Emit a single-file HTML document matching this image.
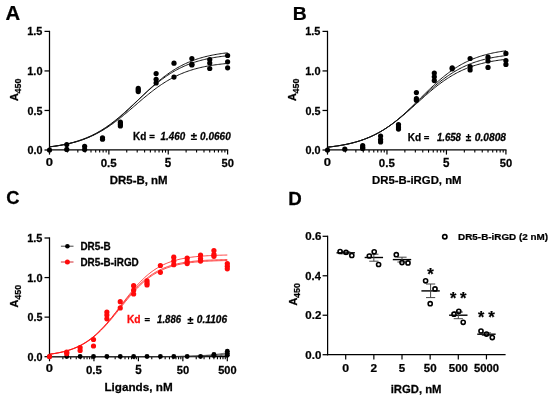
<!DOCTYPE html>
<html><head><meta charset="utf-8"><style>
html,body{margin:0;padding:0;background:#fff;}
body{width:550px;height:398px;overflow:hidden;font-family:"Liberation Sans",sans-serif;}
svg{display:block;will-change:transform;}
</style></head><body>
<svg width="550" height="398" viewBox="0 0 550 398" font-family="Liberation Sans, sans-serif">
<rect width="550" height="398" fill="#fff"/>
<text transform="translate(5.59,20.20) scale(1.045,1)" font-size="19.42" font-weight="bold" fill="#000" stroke="#000" stroke-width="0.24">A</text>
<line x1="49.5" y1="30.8" x2="49.5" y2="150.6" stroke="#000" stroke-width="1.25"/>
<line x1="44.5" y1="150" x2="49.5" y2="150" stroke="#000" stroke-width="1.25"/>
<line x1="44.5" y1="110.47" x2="49.5" y2="110.47" stroke="#000" stroke-width="1.25"/>
<line x1="44.5" y1="70.93" x2="49.5" y2="70.93" stroke="#000" stroke-width="1.25"/>
<line x1="44.5" y1="31.4" x2="49.5" y2="31.4" stroke="#000" stroke-width="1.25"/>
<line x1="48.9" y1="149.9" x2="228.21" y2="149.9" stroke="#000" stroke-width="1.25"/>
<line x1="49.5" y1="149.9" x2="49.5" y2="154.6" stroke="#000" stroke-width="1.2"/>
<line x1="108.87" y1="149.9" x2="108.87" y2="154.6" stroke="#000" stroke-width="1.2"/>
<line x1="168.24" y1="149.9" x2="168.24" y2="154.6" stroke="#000" stroke-width="1.2"/>
<line x1="227.61" y1="149.9" x2="227.61" y2="154.6" stroke="#000" stroke-width="1.2"/>
<line x1="67.37" y1="149.9" x2="67.37" y2="152.6" stroke="#000" stroke-width="1.1"/>
<line x1="77.83" y1="149.9" x2="77.83" y2="152.6" stroke="#000" stroke-width="1.1"/>
<line x1="85.24" y1="149.9" x2="85.24" y2="152.6" stroke="#000" stroke-width="1.1"/>
<line x1="91" y1="149.9" x2="91" y2="152.6" stroke="#000" stroke-width="1.1"/>
<line x1="95.7" y1="149.9" x2="95.7" y2="152.6" stroke="#000" stroke-width="1.1"/>
<line x1="99.67" y1="149.9" x2="99.67" y2="152.6" stroke="#000" stroke-width="1.1"/>
<line x1="103.12" y1="149.9" x2="103.12" y2="152.6" stroke="#000" stroke-width="1.1"/>
<line x1="106.15" y1="149.9" x2="106.15" y2="152.6" stroke="#000" stroke-width="1.1"/>
<line x1="126.74" y1="149.9" x2="126.74" y2="152.6" stroke="#000" stroke-width="1.1"/>
<line x1="137.2" y1="149.9" x2="137.2" y2="152.6" stroke="#000" stroke-width="1.1"/>
<line x1="144.61" y1="149.9" x2="144.61" y2="152.6" stroke="#000" stroke-width="1.1"/>
<line x1="150.37" y1="149.9" x2="150.37" y2="152.6" stroke="#000" stroke-width="1.1"/>
<line x1="155.07" y1="149.9" x2="155.07" y2="152.6" stroke="#000" stroke-width="1.1"/>
<line x1="159.04" y1="149.9" x2="159.04" y2="152.6" stroke="#000" stroke-width="1.1"/>
<line x1="162.49" y1="149.9" x2="162.49" y2="152.6" stroke="#000" stroke-width="1.1"/>
<line x1="165.52" y1="149.9" x2="165.52" y2="152.6" stroke="#000" stroke-width="1.1"/>
<line x1="186.11" y1="149.9" x2="186.11" y2="152.6" stroke="#000" stroke-width="1.1"/>
<line x1="196.57" y1="149.9" x2="196.57" y2="152.6" stroke="#000" stroke-width="1.1"/>
<line x1="203.98" y1="149.9" x2="203.98" y2="152.6" stroke="#000" stroke-width="1.1"/>
<line x1="209.74" y1="149.9" x2="209.74" y2="152.6" stroke="#000" stroke-width="1.1"/>
<line x1="214.44" y1="149.9" x2="214.44" y2="152.6" stroke="#000" stroke-width="1.1"/>
<line x1="218.41" y1="149.9" x2="218.41" y2="152.6" stroke="#000" stroke-width="1.1"/>
<line x1="221.86" y1="149.9" x2="221.86" y2="152.6" stroke="#000" stroke-width="1.1"/>
<line x1="224.89" y1="149.9" x2="224.89" y2="152.6" stroke="#000" stroke-width="1.1"/>
<text transform="translate(27.47,154.05) scale(0.931,1)" font-size="11.64" font-weight="bold" fill="#000" stroke="#000" stroke-width="0.27">0.0</text>
<text transform="translate(27.47,114.52) scale(0.924,1)" font-size="11.64" font-weight="bold" fill="#000" stroke="#000" stroke-width="0.27">0.5</text>
<text transform="translate(27.24,74.98) scale(0.945,1)" font-size="11.64" font-weight="bold" fill="#000" stroke="#000" stroke-width="0.26">1.0</text>
<text transform="translate(27.24,35.45) scale(0.925,1)" font-size="11.81" font-weight="bold" fill="#000" stroke="#000" stroke-width="0.27">1.5</text>
<text transform="translate(45.78,165.50) scale(1.150,1)" font-size="11.29" font-weight="bold" fill="#000" stroke="#000" stroke-width="0.22">0</text>
<text transform="translate(100.71,167.20) scale(0.983,1)" font-size="11.71" font-weight="bold" fill="#000" stroke="#000" stroke-width="0.25">0.5</text>
<text transform="translate(164.79,167.20) scale(0.976,1)" font-size="11.88" font-weight="bold" fill="#000" stroke="#000" stroke-width="0.26">5</text>
<text transform="translate(221.48,167.20) scale(0.952,1)" font-size="11.71" font-weight="bold" fill="#000" stroke="#000" stroke-width="0.26">50</text>
<text transform="translate(109.80,184.00) scale(0.975,1)" font-size="11.74" font-weight="bold" fill="#000" stroke="#000" stroke-width="0.26">DR5-B, nM</text>
<g transform="translate(18.1,100.8) rotate(-90)"><text transform="translate(-0.32,0.00) scale(0.928,1)" font-size="11.59" font-weight="bold" fill="#000" stroke="#000" stroke-width="0.27">A</text></g>
<g transform="translate(21.4,93.2) rotate(-90)"><text transform="translate(-0.18,0.00) scale(0.971,1)" font-size="9.14" font-weight="bold" fill="#000" stroke="#000" stroke-width="0.26">450</text></g>
<path d="M49.50,146.90 L50.77,146.75 L52.04,146.59 L53.32,146.42 L54.59,146.25 L55.86,146.07 L57.13,145.88 L58.41,145.68 L59.68,145.47 L60.95,145.25 L62.22,145.02 L63.49,144.78 L64.77,144.53 L66.04,144.27 L67.31,144.00 L68.58,143.71 L69.86,143.42 L71.13,143.11 L72.40,142.78 L73.67,142.45 L74.94,142.09 L76.22,141.73 L77.49,141.35 L78.76,140.95 L80.03,140.53 L81.31,140.10 L82.58,139.65 L83.85,139.19 L85.12,138.70 L86.39,138.20 L87.67,137.67 L88.94,137.13 L90.21,136.56 L91.48,135.98 L92.76,135.37 L94.03,134.75 L95.30,134.10 L96.57,133.43 L97.84,132.73 L99.12,132.02 L100.39,131.28 L101.66,130.51 L102.93,129.73 L104.21,128.92 L105.48,128.08 L106.75,127.23 L108.02,126.35 L109.29,125.44 L110.57,124.52 L111.84,123.57 L113.11,122.60 L114.38,121.60 L115.66,120.59 L116.93,119.55 L118.20,118.50 L119.47,117.42 L120.74,116.33 L122.02,115.22 L123.29,114.09 L124.56,112.94 L125.83,111.78 L127.11,110.61 L128.38,109.42 L129.65,108.22 L130.92,107.02 L132.19,105.80 L133.47,104.58 L134.74,103.35 L136.01,102.12 L137.28,100.88 L138.56,99.65 L139.83,98.41 L141.10,97.18 L142.37,95.94 L143.64,94.72 L144.92,93.50 L146.19,92.29 L147.46,91.08 L148.73,89.89 L150.00,88.71 L151.28,87.54 L152.55,86.38 L153.82,85.24 L155.09,84.12 L156.37,83.02 L157.64,81.93 L158.91,80.86 L160.18,79.81 L161.45,78.78 L162.73,77.77 L164.00,76.79 L165.27,75.83 L166.54,74.89 L167.82,73.97 L169.09,73.07 L170.36,72.20 L171.63,71.35 L172.90,70.53 L174.18,69.73 L175.45,68.95 L176.72,68.19 L177.99,67.46 L179.27,66.75 L180.54,66.07 L181.81,65.41 L183.08,64.77 L184.35,64.15 L185.63,63.55 L186.90,62.97 L188.17,62.41 L189.44,61.88 L190.72,61.36 L191.99,60.86 L193.26,60.39 L194.53,59.93 L195.80,59.48 L197.08,59.06 L198.35,58.65 L199.62,58.26 L200.89,57.88 L202.17,57.52 L203.44,57.17 L204.71,56.84 L205.98,56.52 L207.25,56.22 L208.53,55.92 L209.80,55.64 L211.07,55.38 L212.34,55.12 L213.62,54.87 L214.89,54.64 L216.16,54.41 L217.43,54.20 L218.70,53.99 L219.98,53.80 L221.25,53.61 L222.52,53.43 L223.79,53.26 L225.07,53.10 L226.34,52.94 L227.61,52.79" fill="none" stroke="#111" stroke-width="1.0"/>
<path d="M49.50,146.79 L50.77,146.63 L52.04,146.46 L53.32,146.29 L54.59,146.11 L55.86,145.92 L57.13,145.73 L58.41,145.52 L59.68,145.30 L60.95,145.08 L62.22,144.84 L63.49,144.60 L64.77,144.34 L66.04,144.07 L67.31,143.79 L68.58,143.50 L69.86,143.19 L71.13,142.87 L72.40,142.54 L73.67,142.19 L74.94,141.83 L76.22,141.46 L77.49,141.06 L78.76,140.65 L80.03,140.23 L81.31,139.79 L82.58,139.33 L83.85,138.85 L85.12,138.35 L86.39,137.84 L87.67,137.30 L88.94,136.75 L90.21,136.17 L91.48,135.58 L92.76,134.96 L94.03,134.32 L95.30,133.67 L96.57,132.98 L97.84,132.28 L99.12,131.55 L100.39,130.81 L101.66,130.04 L102.93,129.24 L104.21,128.43 L105.48,127.59 L106.75,126.72 L108.02,125.84 L109.29,124.93 L110.57,124.01 L111.84,123.06 L113.11,122.09 L114.38,121.09 L115.66,120.08 L116.93,119.05 L118.20,118.00 L119.47,116.94 L120.74,115.85 L122.02,114.75 L123.29,113.64 L124.56,112.51 L125.83,111.37 L127.11,110.22 L128.38,109.05 L129.65,107.88 L130.92,106.70 L132.19,105.52 L133.47,104.33 L134.74,103.13 L136.01,101.94 L137.28,100.74 L138.56,99.54 L139.83,98.35 L141.10,97.16 L142.37,95.98 L143.64,94.80 L144.92,93.63 L146.19,92.47 L147.46,91.32 L148.73,90.18 L150.00,89.06 L151.28,87.95 L152.55,86.85 L153.82,85.77 L155.09,84.71 L156.37,83.66 L157.64,82.64 L158.91,81.63 L160.18,80.65 L161.45,79.68 L162.73,78.74 L164.00,77.81 L165.27,76.91 L166.54,76.04 L167.82,75.18 L169.09,74.35 L170.36,73.54 L171.63,72.75 L172.90,71.98 L174.18,71.24 L175.45,70.52 L176.72,69.82 L177.99,69.15 L179.27,68.49 L180.54,67.86 L181.81,67.25 L183.08,66.66 L184.35,66.09 L185.63,65.54 L186.90,65.01 L188.17,64.50 L189.44,64.01 L190.72,63.54 L191.99,63.08 L193.26,62.64 L194.53,62.22 L195.80,61.82 L197.08,61.43 L198.35,61.06 L199.62,60.70 L200.89,60.36 L202.17,60.03 L203.44,59.71 L204.71,59.41 L205.98,59.12 L207.25,58.84 L208.53,58.58 L209.80,58.32 L211.07,58.08 L212.34,57.85 L213.62,57.62 L214.89,57.41 L216.16,57.21 L217.43,57.01 L218.70,56.83 L219.98,56.65 L221.25,56.48 L222.52,56.32 L223.79,56.16 L225.07,56.01 L226.34,55.87 L227.61,55.74" fill="none" stroke="#111" stroke-width="1.0"/>
<path d="M49.50,146.89 L50.77,146.74 L52.04,146.58 L53.32,146.41 L54.59,146.24 L55.86,146.06 L57.13,145.87 L58.41,145.67 L59.68,145.46 L60.95,145.24 L62.22,145.01 L63.49,144.78 L64.77,144.53 L66.04,144.27 L67.31,144.00 L68.58,143.72 L69.86,143.42 L71.13,143.12 L72.40,142.80 L73.67,142.46 L74.94,142.11 L76.22,141.75 L77.49,141.38 L78.76,140.98 L80.03,140.58 L81.31,140.15 L82.58,139.71 L83.85,139.25 L85.12,138.78 L86.39,138.29 L87.67,137.78 L88.94,137.25 L90.21,136.70 L91.48,136.13 L92.76,135.54 L94.03,134.94 L95.30,134.31 L96.57,133.66 L97.84,132.99 L99.12,132.30 L100.39,131.59 L101.66,130.86 L102.93,130.11 L104.21,129.34 L105.48,128.54 L106.75,127.73 L108.02,126.90 L109.29,126.04 L110.57,125.17 L111.84,124.28 L113.11,123.37 L114.38,122.44 L115.66,121.49 L116.93,120.52 L118.20,119.54 L119.47,118.55 L120.74,117.54 L122.02,116.51 L123.29,115.48 L124.56,114.43 L125.83,113.37 L127.11,112.30 L128.38,111.23 L129.65,110.15 L130.92,109.06 L132.19,107.97 L133.47,106.87 L134.74,105.77 L136.01,104.68 L137.28,103.58 L138.56,102.49 L139.83,101.40 L141.10,100.31 L142.37,99.23 L143.64,98.16 L144.92,97.10 L146.19,96.05 L147.46,95.01 L148.73,93.98 L150.00,92.96 L151.28,91.96 L152.55,90.97 L153.82,90.00 L155.09,89.04 L156.37,88.11 L157.64,87.19 L158.91,86.28 L160.18,85.40 L161.45,84.54 L162.73,83.70 L164.00,82.87 L165.27,82.07 L166.54,81.29 L167.82,80.53 L169.09,79.79 L170.36,79.07 L171.63,78.37 L172.90,77.69 L174.18,77.03 L175.45,76.40 L176.72,75.78 L177.99,75.19 L179.27,74.61 L180.54,74.05 L181.81,73.51 L183.08,72.99 L184.35,72.49 L185.63,72.01 L186.90,71.54 L188.17,71.10 L189.44,70.66 L190.72,70.25 L191.99,69.85 L193.26,69.47 L194.53,69.10 L195.80,68.74 L197.08,68.40 L198.35,68.08 L199.62,67.77 L200.89,67.47 L202.17,67.18 L203.44,66.90 L204.71,66.64 L205.98,66.39 L207.25,66.14 L208.53,65.91 L209.80,65.69 L211.07,65.48 L212.34,65.27 L213.62,65.08 L214.89,64.89 L216.16,64.72 L217.43,64.55 L218.70,64.39 L219.98,64.23 L221.25,64.08 L222.52,63.94 L223.79,63.81 L225.07,63.68 L226.34,63.55 L227.61,63.44" fill="none" stroke="#111" stroke-width="1.0"/>
<circle cx="49.5" cy="150" r="2.6" fill="#000"/>
<circle cx="66.76" cy="144.6" r="2.6" fill="#000"/>
<circle cx="66.76" cy="149.4" r="2.6" fill="#000"/>
<circle cx="84.63" cy="146.3" r="2.6" fill="#000"/>
<circle cx="84.63" cy="149.6" r="2.6" fill="#000"/>
<circle cx="102.5" cy="137.8" r="2.6" fill="#000"/>
<circle cx="102.5" cy="139.2" r="2.6" fill="#000"/>
<circle cx="120.38" cy="122.2" r="2.6" fill="#000"/>
<circle cx="120.38" cy="124.2" r="2.6" fill="#000"/>
<circle cx="120.38" cy="126" r="2.6" fill="#000"/>
<circle cx="138.25" cy="88.4" r="2.6" fill="#000"/>
<circle cx="138.25" cy="90" r="2.6" fill="#000"/>
<circle cx="138.25" cy="91.6" r="2.6" fill="#000"/>
<circle cx="156.12" cy="73.6" r="2.6" fill="#000"/>
<circle cx="156.12" cy="79.3" r="2.6" fill="#000"/>
<circle cx="156.12" cy="82.9" r="2.6" fill="#000"/>
<circle cx="173.99" cy="63.2" r="2.6" fill="#000"/>
<circle cx="173.99" cy="77.1" r="2.6" fill="#000"/>
<circle cx="191.87" cy="58.5" r="2.6" fill="#000"/>
<circle cx="191.87" cy="64.2" r="2.6" fill="#000"/>
<circle cx="191.87" cy="65" r="2.6" fill="#000"/>
<circle cx="209.74" cy="59.5" r="2.6" fill="#000"/>
<circle cx="209.74" cy="63" r="2.6" fill="#000"/>
<circle cx="209.74" cy="68.5" r="2.6" fill="#000"/>
<circle cx="227.61" cy="55.5" r="2.6" fill="#000"/>
<circle cx="227.61" cy="61.8" r="2.6" fill="#000"/>
<circle cx="227.61" cy="67.8" r="2.6" fill="#000"/>
<text transform="translate(133.10,139.70) scale(0.958,1)" font-size="10.43" font-weight="bold" fill="#000" stroke="#000" stroke-width="0.26">Kd</text>
<text transform="translate(149.22,139.70) scale(0.970,1)" font-size="9.90" font-weight="bold" fill="#000" stroke="#000" stroke-width="0.26">=</text>
<text transform="translate(160.60,139.60) scale(0.931,1)" font-size="10.57" font-weight="bold" font-style="italic" fill="#000" stroke="#000" stroke-width="0.27">1.460</text>
<text transform="translate(190.67,139.80) scale(1.134,1)" font-size="10.20" font-weight="bold" fill="#000" stroke="#000" stroke-width="0.22">&#177;</text>
<text transform="translate(200.10,139.50) scale(0.989,1)" font-size="10.14" font-weight="bold" font-style="italic" fill="#000" stroke="#000" stroke-width="0.25">0.0660</text>
<text transform="translate(292.65,19.90) scale(1.011,1)" font-size="19.13" font-weight="bold" fill="#000" stroke="#000" stroke-width="0.25">B</text>
<line x1="327.5" y1="30.8" x2="327.5" y2="150.6" stroke="#000" stroke-width="1.25"/>
<line x1="322.5" y1="150" x2="327.5" y2="150" stroke="#000" stroke-width="1.25"/>
<line x1="322.5" y1="110.47" x2="327.5" y2="110.47" stroke="#000" stroke-width="1.25"/>
<line x1="322.5" y1="70.93" x2="327.5" y2="70.93" stroke="#000" stroke-width="1.25"/>
<line x1="322.5" y1="31.4" x2="327.5" y2="31.4" stroke="#000" stroke-width="1.25"/>
<line x1="326.9" y1="149.9" x2="506.51" y2="149.9" stroke="#000" stroke-width="1.25"/>
<line x1="327.5" y1="149.9" x2="327.5" y2="154.6" stroke="#000" stroke-width="1.2"/>
<line x1="386.97" y1="149.9" x2="386.97" y2="154.6" stroke="#000" stroke-width="1.2"/>
<line x1="446.44" y1="149.9" x2="446.44" y2="154.6" stroke="#000" stroke-width="1.2"/>
<line x1="505.91" y1="149.9" x2="505.91" y2="154.6" stroke="#000" stroke-width="1.2"/>
<line x1="345.4" y1="149.9" x2="345.4" y2="152.6" stroke="#000" stroke-width="1.1"/>
<line x1="355.87" y1="149.9" x2="355.87" y2="152.6" stroke="#000" stroke-width="1.1"/>
<line x1="363.3" y1="149.9" x2="363.3" y2="152.6" stroke="#000" stroke-width="1.1"/>
<line x1="369.07" y1="149.9" x2="369.07" y2="152.6" stroke="#000" stroke-width="1.1"/>
<line x1="373.78" y1="149.9" x2="373.78" y2="152.6" stroke="#000" stroke-width="1.1"/>
<line x1="377.76" y1="149.9" x2="377.76" y2="152.6" stroke="#000" stroke-width="1.1"/>
<line x1="381.21" y1="149.9" x2="381.21" y2="152.6" stroke="#000" stroke-width="1.1"/>
<line x1="384.25" y1="149.9" x2="384.25" y2="152.6" stroke="#000" stroke-width="1.1"/>
<line x1="404.87" y1="149.9" x2="404.87" y2="152.6" stroke="#000" stroke-width="1.1"/>
<line x1="415.34" y1="149.9" x2="415.34" y2="152.6" stroke="#000" stroke-width="1.1"/>
<line x1="422.77" y1="149.9" x2="422.77" y2="152.6" stroke="#000" stroke-width="1.1"/>
<line x1="428.54" y1="149.9" x2="428.54" y2="152.6" stroke="#000" stroke-width="1.1"/>
<line x1="433.25" y1="149.9" x2="433.25" y2="152.6" stroke="#000" stroke-width="1.1"/>
<line x1="437.23" y1="149.9" x2="437.23" y2="152.6" stroke="#000" stroke-width="1.1"/>
<line x1="440.68" y1="149.9" x2="440.68" y2="152.6" stroke="#000" stroke-width="1.1"/>
<line x1="443.72" y1="149.9" x2="443.72" y2="152.6" stroke="#000" stroke-width="1.1"/>
<line x1="464.34" y1="149.9" x2="464.34" y2="152.6" stroke="#000" stroke-width="1.1"/>
<line x1="474.81" y1="149.9" x2="474.81" y2="152.6" stroke="#000" stroke-width="1.1"/>
<line x1="482.24" y1="149.9" x2="482.24" y2="152.6" stroke="#000" stroke-width="1.1"/>
<line x1="488.01" y1="149.9" x2="488.01" y2="152.6" stroke="#000" stroke-width="1.1"/>
<line x1="492.72" y1="149.9" x2="492.72" y2="152.6" stroke="#000" stroke-width="1.1"/>
<line x1="496.7" y1="149.9" x2="496.7" y2="152.6" stroke="#000" stroke-width="1.1"/>
<line x1="500.15" y1="149.9" x2="500.15" y2="152.6" stroke="#000" stroke-width="1.1"/>
<line x1="503.19" y1="149.9" x2="503.19" y2="152.6" stroke="#000" stroke-width="1.1"/>
<text transform="translate(305.47,154.05) scale(0.931,1)" font-size="11.64" font-weight="bold" fill="#000" stroke="#000" stroke-width="0.27">0.0</text>
<text transform="translate(305.47,114.52) scale(0.924,1)" font-size="11.64" font-weight="bold" fill="#000" stroke="#000" stroke-width="0.27">0.5</text>
<text transform="translate(305.24,74.98) scale(0.945,1)" font-size="11.64" font-weight="bold" fill="#000" stroke="#000" stroke-width="0.26">1.0</text>
<text transform="translate(305.24,35.45) scale(0.925,1)" font-size="11.81" font-weight="bold" fill="#000" stroke="#000" stroke-width="0.27">1.5</text>
<text transform="translate(323.78,165.50) scale(1.150,1)" font-size="11.29" font-weight="bold" fill="#000" stroke="#000" stroke-width="0.22">0</text>
<text transform="translate(378.81,167.20) scale(0.983,1)" font-size="11.71" font-weight="bold" fill="#000" stroke="#000" stroke-width="0.25">0.5</text>
<text transform="translate(442.99,167.20) scale(0.976,1)" font-size="11.88" font-weight="bold" fill="#000" stroke="#000" stroke-width="0.26">5</text>
<text transform="translate(499.78,167.20) scale(0.952,1)" font-size="11.71" font-weight="bold" fill="#000" stroke="#000" stroke-width="0.26">50</text>
<text transform="translate(372.00,183.80) scale(0.980,1)" font-size="11.59" font-weight="bold" fill="#000" stroke="#000" stroke-width="0.25">DR5-B-iRGD, nM</text>
<g transform="translate(296.1,100.8) rotate(-90)"><text transform="translate(-0.32,0.00) scale(0.928,1)" font-size="11.59" font-weight="bold" fill="#000" stroke="#000" stroke-width="0.27">A</text></g>
<g transform="translate(299.4,93.2) rotate(-90)"><text transform="translate(-0.18,0.00) scale(0.971,1)" font-size="9.14" font-weight="bold" fill="#000" stroke="#000" stroke-width="0.26">450</text></g>
<path d="M327.50,147.22 L328.77,147.08 L330.05,146.94 L331.32,146.79 L332.60,146.63 L333.87,146.47 L335.15,146.30 L336.42,146.12 L337.69,145.93 L338.97,145.73 L340.24,145.52 L341.52,145.31 L342.79,145.08 L344.07,144.85 L345.34,144.60 L346.62,144.34 L347.89,144.07 L349.16,143.79 L350.44,143.50 L351.71,143.19 L352.99,142.87 L354.26,142.53 L355.54,142.18 L356.81,141.82 L358.08,141.44 L359.36,141.05 L360.63,140.63 L361.91,140.21 L363.18,139.76 L364.46,139.30 L365.73,138.81 L367.01,138.31 L368.28,137.79 L369.55,137.25 L370.83,136.69 L372.10,136.11 L373.38,135.50 L374.65,134.88 L375.93,134.23 L377.20,133.56 L378.47,132.87 L379.75,132.15 L381.02,131.41 L382.30,130.65 L383.57,129.86 L384.85,129.05 L386.12,128.22 L387.39,127.36 L388.67,126.47 L389.94,125.57 L391.22,124.64 L392.49,123.68 L393.77,122.70 L395.04,121.70 L396.32,120.68 L397.59,119.63 L398.86,118.57 L400.14,117.48 L401.41,116.38 L402.69,115.25 L403.96,114.11 L405.24,112.94 L406.51,111.77 L407.78,110.58 L409.06,109.37 L410.33,108.15 L411.61,106.92 L412.88,105.68 L414.16,104.43 L415.43,103.18 L416.70,101.92 L417.98,100.65 L419.25,99.39 L420.53,98.12 L421.80,96.85 L423.08,95.59 L424.35,94.33 L425.63,93.07 L426.90,91.82 L428.17,90.58 L429.45,89.35 L430.72,88.13 L432.00,86.92 L433.27,85.72 L434.55,84.54 L435.82,83.38 L437.09,82.23 L438.37,81.10 L439.64,79.99 L440.92,78.90 L442.19,77.82 L443.47,76.77 L444.74,75.75 L446.02,74.74 L447.29,73.76 L448.56,72.80 L449.84,71.86 L451.11,70.95 L452.39,70.06 L453.66,69.20 L454.94,68.35 L456.21,67.54 L457.48,66.75 L458.76,65.98 L460.03,65.23 L461.31,64.51 L462.58,63.81 L463.86,63.14 L465.13,62.48 L466.40,61.85 L467.68,61.25 L468.95,60.66 L470.23,60.09 L471.50,59.55 L472.78,59.02 L474.05,58.51 L475.33,58.03 L476.60,57.56 L477.87,57.11 L479.15,56.68 L480.42,56.26 L481.70,55.86 L482.97,55.48 L484.25,55.11 L485.52,54.76 L486.79,54.42 L488.07,54.10 L489.34,53.79 L490.62,53.49 L491.89,53.21 L493.17,52.93 L494.44,52.67 L495.72,52.42 L496.99,52.18 L498.26,51.96 L499.54,51.74 L500.81,51.53 L502.09,51.33 L503.36,51.14 L504.64,50.96 L505.91,50.78" fill="none" stroke="#111" stroke-width="1.0"/>
<path d="M327.50,147.17 L328.77,147.03 L330.05,146.88 L331.32,146.73 L332.60,146.57 L333.87,146.40 L335.15,146.23 L336.42,146.05 L337.69,145.85 L338.97,145.65 L340.24,145.44 L341.52,145.23 L342.79,145.00 L344.07,144.76 L345.34,144.51 L346.62,144.24 L347.89,143.97 L349.16,143.69 L350.44,143.39 L351.71,143.08 L352.99,142.75 L354.26,142.42 L355.54,142.06 L356.81,141.70 L358.08,141.31 L359.36,140.92 L360.63,140.50 L361.91,140.07 L363.18,139.62 L364.46,139.15 L365.73,138.67 L367.01,138.16 L368.28,137.64 L369.55,137.10 L370.83,136.54 L372.10,135.95 L373.38,135.35 L374.65,134.73 L375.93,134.08 L377.20,133.41 L378.47,132.72 L379.75,132.01 L381.02,131.27 L382.30,130.51 L383.57,129.73 L384.85,128.93 L386.12,128.10 L387.39,127.25 L388.67,126.38 L389.94,125.49 L391.22,124.57 L392.49,123.63 L393.77,122.67 L395.04,121.69 L396.32,120.69 L397.59,119.67 L398.86,118.63 L400.14,117.57 L401.41,116.49 L402.69,115.40 L403.96,114.29 L405.24,113.16 L406.51,112.02 L407.78,110.87 L409.06,109.71 L410.33,108.54 L411.61,107.36 L412.88,106.17 L414.16,104.98 L415.43,103.78 L416.70,102.58 L417.98,101.38 L419.25,100.17 L420.53,98.97 L421.80,97.77 L423.08,96.58 L424.35,95.39 L425.63,94.20 L426.90,93.03 L428.17,91.86 L429.45,90.71 L430.72,89.57 L432.00,88.44 L433.27,87.33 L434.55,86.23 L435.82,85.15 L437.09,84.08 L438.37,83.04 L439.64,82.01 L440.92,81.00 L442.19,80.02 L443.47,79.05 L444.74,78.11 L446.02,77.18 L447.29,76.28 L448.56,75.41 L449.84,74.55 L451.11,73.72 L452.39,72.91 L453.66,72.12 L454.94,71.36 L456.21,70.62 L457.48,69.90 L458.76,69.20 L460.03,68.53 L461.31,67.88 L462.58,67.24 L463.86,66.64 L465.13,66.05 L466.40,65.48 L467.68,64.93 L468.95,64.40 L470.23,63.89 L471.50,63.40 L472.78,62.93 L474.05,62.48 L475.33,62.04 L476.60,61.62 L477.87,61.22 L479.15,60.84 L480.42,60.46 L481.70,60.11 L482.97,59.77 L484.25,59.44 L485.52,59.12 L486.79,58.82 L488.07,58.53 L489.34,58.26 L490.62,57.99 L491.89,57.74 L493.17,57.50 L494.44,57.27 L495.72,57.04 L496.99,56.83 L498.26,56.63 L499.54,56.44 L500.81,56.25 L502.09,56.07 L503.36,55.90 L504.64,55.74 L505.91,55.59" fill="none" stroke="#111" stroke-width="1.0"/>
<path d="M327.50,147.16 L328.77,147.02 L330.05,146.87 L331.32,146.72 L332.60,146.56 L333.87,146.39 L335.15,146.21 L336.42,146.03 L337.69,145.84 L338.97,145.64 L340.24,145.43 L341.52,145.21 L342.79,144.98 L344.07,144.74 L345.34,144.49 L346.62,144.23 L347.89,143.96 L349.16,143.67 L350.44,143.37 L351.71,143.06 L352.99,142.74 L354.26,142.40 L355.54,142.05 L356.81,141.68 L358.08,141.30 L359.36,140.91 L360.63,140.49 L361.91,140.06 L363.18,139.62 L364.46,139.15 L365.73,138.67 L367.01,138.17 L368.28,137.65 L369.55,137.11 L370.83,136.55 L372.10,135.97 L373.38,135.38 L374.65,134.76 L375.93,134.12 L377.20,133.46 L378.47,132.77 L379.75,132.07 L381.02,131.34 L382.30,130.60 L383.57,129.83 L384.85,129.03 L386.12,128.22 L387.39,127.38 L388.67,126.53 L389.94,125.65 L391.22,124.75 L392.49,123.83 L393.77,122.89 L395.04,121.93 L396.32,120.95 L397.59,119.96 L398.86,118.94 L400.14,117.91 L401.41,116.86 L402.69,115.80 L403.96,114.72 L405.24,113.63 L406.51,112.53 L407.78,111.41 L409.06,110.29 L410.33,109.16 L411.61,108.02 L412.88,106.88 L414.16,105.73 L415.43,104.57 L416.70,103.42 L417.98,102.27 L419.25,101.12 L420.53,99.97 L421.80,98.82 L423.08,97.68 L424.35,96.54 L425.63,95.42 L426.90,94.30 L428.17,93.20 L429.45,92.10 L430.72,91.02 L432.00,89.95 L433.27,88.90 L434.55,87.86 L435.82,86.84 L437.09,85.84 L438.37,84.85 L439.64,83.89 L440.92,82.94 L442.19,82.01 L443.47,81.11 L444.74,80.22 L446.02,79.36 L447.29,78.52 L448.56,77.70 L449.84,76.90 L451.11,76.12 L452.39,75.36 L453.66,74.63 L454.94,73.92 L456.21,73.23 L457.48,72.56 L458.76,71.91 L460.03,71.29 L461.31,70.68 L462.58,70.10 L463.86,69.53 L465.13,68.99 L466.40,68.46 L467.68,67.96 L468.95,67.47 L470.23,67.00 L471.50,66.55 L472.78,66.11 L474.05,65.69 L475.33,65.29 L476.60,64.90 L477.87,64.53 L479.15,64.18 L480.42,63.83 L481.70,63.51 L482.97,63.19 L484.25,62.89 L485.52,62.60 L486.79,62.32 L488.07,62.06 L489.34,61.80 L490.62,61.56 L491.89,61.33 L493.17,61.11 L494.44,60.89 L495.72,60.69 L496.99,60.49 L498.26,60.31 L499.54,60.13 L500.81,59.96 L502.09,59.80 L503.36,59.64 L504.64,59.50 L505.91,59.35" fill="none" stroke="#111" stroke-width="1.0"/>
<circle cx="327.5" cy="150" r="2.6" fill="#000"/>
<circle cx="344.79" cy="149.2" r="2.6" fill="#000"/>
<circle cx="362.69" cy="145.6" r="2.6" fill="#000"/>
<circle cx="362.69" cy="147.4" r="2.6" fill="#000"/>
<circle cx="362.69" cy="148.6" r="2.6" fill="#000"/>
<circle cx="380.59" cy="136" r="2.6" fill="#000"/>
<circle cx="380.59" cy="139.5" r="2.6" fill="#000"/>
<circle cx="380.59" cy="141.9" r="2.6" fill="#000"/>
<circle cx="398.5" cy="124.6" r="2.6" fill="#000"/>
<circle cx="398.5" cy="127" r="2.6" fill="#000"/>
<circle cx="398.5" cy="129.1" r="2.6" fill="#000"/>
<circle cx="416.4" cy="92.6" r="2.6" fill="#000"/>
<circle cx="416.4" cy="98.7" r="2.6" fill="#000"/>
<circle cx="416.4" cy="100.2" r="2.6" fill="#000"/>
<circle cx="434.3" cy="73" r="2.6" fill="#000"/>
<circle cx="434.3" cy="76.8" r="2.6" fill="#000"/>
<circle cx="434.3" cy="80.6" r="2.6" fill="#000"/>
<circle cx="452.2" cy="67.8" r="2.6" fill="#000"/>
<circle cx="452.2" cy="68.8" r="2.6" fill="#000"/>
<circle cx="470.11" cy="58.5" r="2.6" fill="#000"/>
<circle cx="470.11" cy="66.7" r="2.6" fill="#000"/>
<circle cx="470.11" cy="69.9" r="2.6" fill="#000"/>
<circle cx="488.01" cy="57.2" r="2.6" fill="#000"/>
<circle cx="488.01" cy="61" r="2.6" fill="#000"/>
<circle cx="488.01" cy="67.4" r="2.6" fill="#000"/>
<circle cx="505.91" cy="53.4" r="2.6" fill="#000"/>
<circle cx="505.91" cy="60.6" r="2.6" fill="#000"/>
<circle cx="505.91" cy="64.4" r="2.6" fill="#000"/>
<text transform="translate(407.70,141.10) scale(1.000,1)" font-size="10.00" font-weight="bold" fill="#000" stroke="#000" stroke-width="0.25">Kd</text>
<text transform="translate(423.82,141.10) scale(0.990,1)" font-size="9.70" font-weight="bold" fill="#000" stroke="#000" stroke-width="0.25">=</text>
<text transform="translate(436.91,141.10) scale(0.933,1)" font-size="10.29" font-weight="bold" font-style="italic" fill="#000" stroke="#000" stroke-width="0.27">1.658</text>
<text transform="translate(465.80,140.90) scale(1.000,1)" font-size="10.00" font-weight="bold" fill="#000" stroke="#000" stroke-width="0.25">&#177;</text>
<text transform="translate(474.79,140.90) scale(1.020,1)" font-size="10.00" font-weight="bold" font-style="italic" fill="#000" stroke="#000" stroke-width="0.25">0.0808</text>
<text transform="translate(6.27,204.30) scale(0.950,1)" font-size="19.28" font-weight="bold" fill="#000" stroke="#000" stroke-width="0.26">C</text>
<line x1="49.5" y1="237.4" x2="49.5" y2="357.3" stroke="#000" stroke-width="1.25"/>
<line x1="44.5" y1="356.7" x2="49.5" y2="356.7" stroke="#000" stroke-width="1.25"/>
<line x1="44.5" y1="317.13" x2="49.5" y2="317.13" stroke="#000" stroke-width="1.25"/>
<line x1="44.5" y1="277.57" x2="49.5" y2="277.57" stroke="#000" stroke-width="1.25"/>
<line x1="44.5" y1="238" x2="49.5" y2="238" stroke="#000" stroke-width="1.25"/>
<line x1="48.9" y1="356.6" x2="227.9" y2="356.6" stroke="#000" stroke-width="1.25"/>
<line x1="49.5" y1="356.6" x2="49.5" y2="361.3" stroke="#000" stroke-width="1.2"/>
<line x1="93.95" y1="356.6" x2="93.95" y2="361.3" stroke="#000" stroke-width="1.2"/>
<line x1="138.4" y1="356.6" x2="138.4" y2="361.3" stroke="#000" stroke-width="1.2"/>
<line x1="182.85" y1="356.6" x2="182.85" y2="361.3" stroke="#000" stroke-width="1.2"/>
<line x1="227.3" y1="356.6" x2="227.3" y2="361.3" stroke="#000" stroke-width="1.2"/>
<line x1="62.88" y1="356.6" x2="62.88" y2="359.3" stroke="#000" stroke-width="1.1"/>
<line x1="70.71" y1="356.6" x2="70.71" y2="359.3" stroke="#000" stroke-width="1.1"/>
<line x1="76.26" y1="356.6" x2="76.26" y2="359.3" stroke="#000" stroke-width="1.1"/>
<line x1="80.57" y1="356.6" x2="80.57" y2="359.3" stroke="#000" stroke-width="1.1"/>
<line x1="84.09" y1="356.6" x2="84.09" y2="359.3" stroke="#000" stroke-width="1.1"/>
<line x1="87.06" y1="356.6" x2="87.06" y2="359.3" stroke="#000" stroke-width="1.1"/>
<line x1="89.64" y1="356.6" x2="89.64" y2="359.3" stroke="#000" stroke-width="1.1"/>
<line x1="91.92" y1="356.6" x2="91.92" y2="359.3" stroke="#000" stroke-width="1.1"/>
<line x1="107.33" y1="356.6" x2="107.33" y2="359.3" stroke="#000" stroke-width="1.1"/>
<line x1="115.16" y1="356.6" x2="115.16" y2="359.3" stroke="#000" stroke-width="1.1"/>
<line x1="120.71" y1="356.6" x2="120.71" y2="359.3" stroke="#000" stroke-width="1.1"/>
<line x1="125.02" y1="356.6" x2="125.02" y2="359.3" stroke="#000" stroke-width="1.1"/>
<line x1="128.54" y1="356.6" x2="128.54" y2="359.3" stroke="#000" stroke-width="1.1"/>
<line x1="131.51" y1="356.6" x2="131.51" y2="359.3" stroke="#000" stroke-width="1.1"/>
<line x1="134.09" y1="356.6" x2="134.09" y2="359.3" stroke="#000" stroke-width="1.1"/>
<line x1="136.37" y1="356.6" x2="136.37" y2="359.3" stroke="#000" stroke-width="1.1"/>
<line x1="151.78" y1="356.6" x2="151.78" y2="359.3" stroke="#000" stroke-width="1.1"/>
<line x1="159.61" y1="356.6" x2="159.61" y2="359.3" stroke="#000" stroke-width="1.1"/>
<line x1="165.16" y1="356.6" x2="165.16" y2="359.3" stroke="#000" stroke-width="1.1"/>
<line x1="169.47" y1="356.6" x2="169.47" y2="359.3" stroke="#000" stroke-width="1.1"/>
<line x1="172.99" y1="356.6" x2="172.99" y2="359.3" stroke="#000" stroke-width="1.1"/>
<line x1="175.96" y1="356.6" x2="175.96" y2="359.3" stroke="#000" stroke-width="1.1"/>
<line x1="178.54" y1="356.6" x2="178.54" y2="359.3" stroke="#000" stroke-width="1.1"/>
<line x1="180.82" y1="356.6" x2="180.82" y2="359.3" stroke="#000" stroke-width="1.1"/>
<line x1="196.23" y1="356.6" x2="196.23" y2="359.3" stroke="#000" stroke-width="1.1"/>
<line x1="204.06" y1="356.6" x2="204.06" y2="359.3" stroke="#000" stroke-width="1.1"/>
<line x1="209.61" y1="356.6" x2="209.61" y2="359.3" stroke="#000" stroke-width="1.1"/>
<line x1="213.92" y1="356.6" x2="213.92" y2="359.3" stroke="#000" stroke-width="1.1"/>
<line x1="217.44" y1="356.6" x2="217.44" y2="359.3" stroke="#000" stroke-width="1.1"/>
<line x1="220.41" y1="356.6" x2="220.41" y2="359.3" stroke="#000" stroke-width="1.1"/>
<line x1="222.99" y1="356.6" x2="222.99" y2="359.3" stroke="#000" stroke-width="1.1"/>
<line x1="225.27" y1="356.6" x2="225.27" y2="359.3" stroke="#000" stroke-width="1.1"/>
<text transform="translate(27.47,360.75) scale(0.931,1)" font-size="11.64" font-weight="bold" fill="#000" stroke="#000" stroke-width="0.27">0.0</text>
<text transform="translate(27.47,321.18) scale(0.924,1)" font-size="11.64" font-weight="bold" fill="#000" stroke="#000" stroke-width="0.27">0.5</text>
<text transform="translate(27.24,281.62) scale(0.945,1)" font-size="11.64" font-weight="bold" fill="#000" stroke="#000" stroke-width="0.26">1.0</text>
<text transform="translate(27.24,242.05) scale(0.925,1)" font-size="11.81" font-weight="bold" fill="#000" stroke="#000" stroke-width="0.27">1.5</text>
<text transform="translate(45.78,372.40) scale(1.136,1)" font-size="11.43" font-weight="bold" fill="#000" stroke="#000" stroke-width="0.22">0</text>
<text transform="translate(85.89,374.10) scale(0.983,1)" font-size="11.71" font-weight="bold" fill="#000" stroke="#000" stroke-width="0.25">0.5</text>
<text transform="translate(135.15,374.10) scale(0.976,1)" font-size="11.88" font-weight="bold" fill="#000" stroke="#000" stroke-width="0.26">5</text>
<text transform="translate(176.72,374.10) scale(0.952,1)" font-size="11.71" font-weight="bold" fill="#000" stroke="#000" stroke-width="0.26">50</text>
<text transform="translate(218.17,374.10) scale(0.939,1)" font-size="11.71" font-weight="bold" fill="#000" stroke="#000" stroke-width="0.27">500</text>
<text transform="translate(104.38,390.50) scale(0.997,1)" font-size="11.74" font-weight="bold" fill="#000" stroke="#000" stroke-width="0.25">Ligands, nM</text>
<g transform="translate(18.1,307.1) rotate(-90)"><text transform="translate(-0.32,0.00) scale(0.928,1)" font-size="11.59" font-weight="bold" fill="#000" stroke="#000" stroke-width="0.27">A</text></g>
<g transform="translate(21.4,299.5) rotate(-90)"><text transform="translate(-0.18,0.00) scale(0.971,1)" font-size="9.14" font-weight="bold" fill="#000" stroke="#000" stroke-width="0.26">450</text></g>
<path d="M49.50,356.70 L50.77,356.70 L52.04,356.70 L53.31,356.70 L54.58,356.70 L55.85,356.70 L57.12,356.70 L58.39,356.70 L59.66,356.70 L60.93,356.70 L62.20,356.70 L63.47,356.70 L64.74,356.70 L66.01,356.70 L67.28,356.70 L68.55,356.70 L69.82,356.70 L71.09,356.70 L72.36,356.70 L73.63,356.70 L74.90,356.70 L76.17,356.70 L77.44,356.70 L78.71,356.70 L79.98,356.70 L81.25,356.70 L82.52,356.70 L83.79,356.70 L85.06,356.70 L86.33,356.70 L87.60,356.70 L88.87,356.70 L90.14,356.70 L91.41,356.70 L92.68,356.70 L93.95,356.70 L95.22,356.70 L96.49,356.70 L97.76,356.69 L99.03,356.69 L100.30,356.69 L101.57,356.69 L102.84,356.69 L104.11,356.69 L105.38,356.69 L106.65,356.69 L107.92,356.69 L109.19,356.69 L110.46,356.69 L111.73,356.69 L113.00,356.69 L114.27,356.69 L115.54,356.69 L116.81,356.69 L118.08,356.69 L119.35,356.68 L120.62,356.68 L121.89,356.68 L123.16,356.68 L124.43,356.68 L125.70,356.68 L126.97,356.68 L128.24,356.68 L129.51,356.67 L130.78,356.67 L132.05,356.67 L133.32,356.67 L134.59,356.67 L135.86,356.66 L137.13,356.66 L138.40,356.66 L139.67,356.66 L140.94,356.65 L142.21,356.65 L143.48,356.65 L144.75,356.64 L146.02,356.64 L147.29,356.63 L148.56,356.63 L149.83,356.62 L151.10,356.62 L152.37,356.61 L153.64,356.61 L154.91,356.60 L156.18,356.59 L157.45,356.59 L158.72,356.58 L159.99,356.57 L161.26,356.56 L162.53,356.55 L163.80,356.54 L165.07,356.53 L166.34,356.52 L167.61,356.51 L168.88,356.50 L170.15,356.48 L171.42,356.47 L172.69,356.45 L173.96,356.44 L175.23,356.42 L176.50,356.40 L177.77,356.38 L179.04,356.36 L180.31,356.33 L181.58,356.31 L182.85,356.28 L184.12,356.25 L185.39,356.22 L186.66,356.19 L187.93,356.16 L189.20,356.12 L190.47,356.08 L191.74,356.04 L193.01,356.00 L194.28,355.95 L195.55,355.90 L196.82,355.84 L198.09,355.79 L199.36,355.72 L200.63,355.66 L201.90,355.59 L203.17,355.51 L204.44,355.43 L205.71,355.35 L206.98,355.26 L208.25,355.16 L209.52,355.06 L210.79,354.95 L212.06,354.83 L213.33,354.71 L214.60,354.58 L215.87,354.43 L217.14,354.28 L218.41,354.12 L219.68,353.95 L220.95,353.77 L222.22,353.58 L223.49,353.37 L224.76,353.16 L226.03,352.93 L227.30,352.68" fill="none" stroke="#333" stroke-width="0.8"/>
<path d="M49.50,356.70 L50.77,356.70 L52.04,356.70 L53.31,356.70 L54.58,356.70 L55.85,356.70 L57.12,356.70 L58.39,356.70 L59.66,356.70 L60.93,356.70 L62.20,356.70 L63.47,356.70 L64.74,356.70 L66.01,356.70 L67.28,356.70 L68.55,356.70 L69.82,356.70 L71.09,356.70 L72.36,356.70 L73.63,356.70 L74.90,356.70 L76.17,356.70 L77.44,356.70 L78.71,356.70 L79.98,356.70 L81.25,356.70 L82.52,356.70 L83.79,356.70 L85.06,356.70 L86.33,356.70 L87.60,356.70 L88.87,356.70 L90.14,356.70 L91.41,356.70 L92.68,356.70 L93.95,356.70 L95.22,356.70 L96.49,356.70 L97.76,356.70 L99.03,356.70 L100.30,356.70 L101.57,356.70 L102.84,356.70 L104.11,356.70 L105.38,356.69 L106.65,356.69 L107.92,356.69 L109.19,356.69 L110.46,356.69 L111.73,356.69 L113.00,356.69 L114.27,356.69 L115.54,356.69 L116.81,356.69 L118.08,356.69 L119.35,356.69 L120.62,356.69 L121.89,356.69 L123.16,356.69 L124.43,356.69 L125.70,356.68 L126.97,356.68 L128.24,356.68 L129.51,356.68 L130.78,356.68 L132.05,356.68 L133.32,356.68 L134.59,356.68 L135.86,356.67 L137.13,356.67 L138.40,356.67 L139.67,356.67 L140.94,356.67 L142.21,356.66 L143.48,356.66 L144.75,356.66 L146.02,356.66 L147.29,356.65 L148.56,356.65 L149.83,356.65 L151.10,356.64 L152.37,356.64 L153.64,356.64 L154.91,356.63 L156.18,356.63 L157.45,356.62 L158.72,356.62 L159.99,356.61 L161.26,356.61 L162.53,356.60 L163.80,356.59 L165.07,356.58 L166.34,356.58 L167.61,356.57 L168.88,356.56 L170.15,356.55 L171.42,356.54 L172.69,356.53 L173.96,356.52 L175.23,356.50 L176.50,356.49 L177.77,356.48 L179.04,356.46 L180.31,356.45 L181.58,356.43 L182.85,356.41 L184.12,356.39 L185.39,356.37 L186.66,356.35 L187.93,356.32 L189.20,356.30 L190.47,356.27 L191.74,356.24 L193.01,356.21 L194.28,356.18 L195.55,356.14 L196.82,356.10 L198.09,356.06 L199.36,356.02 L200.63,355.97 L201.90,355.93 L203.17,355.87 L204.44,355.82 L205.71,355.76 L206.98,355.69 L208.25,355.63 L209.52,355.56 L210.79,355.48 L212.06,355.40 L213.33,355.31 L214.60,355.22 L215.87,355.12 L217.14,355.01 L218.41,354.90 L219.68,354.78 L220.95,354.65 L222.22,354.51 L223.49,354.37 L224.76,354.21 L226.03,354.05 L227.30,353.87" fill="none" stroke="#333" stroke-width="0.8"/>
<path d="M49.50,356.70 L50.77,356.70 L52.04,356.70 L53.31,356.70 L54.58,356.70 L55.85,356.70 L57.12,356.70 L58.39,356.70 L59.66,356.70 L60.93,356.70 L62.20,356.70 L63.47,356.70 L64.74,356.70 L66.01,356.70 L67.28,356.70 L68.55,356.70 L69.82,356.70 L71.09,356.70 L72.36,356.70 L73.63,356.70 L74.90,356.70 L76.17,356.70 L77.44,356.70 L78.71,356.70 L79.98,356.70 L81.25,356.70 L82.52,356.70 L83.79,356.70 L85.06,356.70 L86.33,356.70 L87.60,356.70 L88.87,356.70 L90.14,356.70 L91.41,356.70 L92.68,356.70 L93.95,356.70 L95.22,356.70 L96.49,356.70 L97.76,356.70 L99.03,356.70 L100.30,356.70 L101.57,356.70 L102.84,356.70 L104.11,356.70 L105.38,356.70 L106.65,356.70 L107.92,356.70 L109.19,356.70 L110.46,356.70 L111.73,356.70 L113.00,356.70 L114.27,356.70 L115.54,356.69 L116.81,356.69 L118.08,356.69 L119.35,356.69 L120.62,356.69 L121.89,356.69 L123.16,356.69 L124.43,356.69 L125.70,356.69 L126.97,356.69 L128.24,356.69 L129.51,356.69 L130.78,356.69 L132.05,356.69 L133.32,356.69 L134.59,356.69 L135.86,356.69 L137.13,356.68 L138.40,356.68 L139.67,356.68 L140.94,356.68 L142.21,356.68 L143.48,356.68 L144.75,356.68 L146.02,356.68 L147.29,356.67 L148.56,356.67 L149.83,356.67 L151.10,356.67 L152.37,356.67 L153.64,356.66 L154.91,356.66 L156.18,356.66 L157.45,356.66 L158.72,356.65 L159.99,356.65 L161.26,356.65 L162.53,356.64 L163.80,356.64 L165.07,356.63 L166.34,356.63 L167.61,356.63 L168.88,356.62 L170.15,356.61 L171.42,356.61 L172.69,356.60 L173.96,356.60 L175.23,356.59 L176.50,356.58 L177.77,356.57 L179.04,356.56 L180.31,356.56 L181.58,356.55 L182.85,356.54 L184.12,356.52 L185.39,356.51 L186.66,356.50 L187.93,356.49 L189.20,356.47 L190.47,356.46 L191.74,356.44 L193.01,356.42 L194.28,356.40 L195.55,356.38 L196.82,356.36 L198.09,356.34 L199.36,356.31 L200.63,356.29 L201.90,356.26 L203.17,356.23 L204.44,356.20 L205.71,356.16 L206.98,356.13 L208.25,356.09 L209.52,356.05 L210.79,356.00 L212.06,355.96 L213.33,355.91 L214.60,355.85 L215.87,355.80 L217.14,355.74 L218.41,355.67 L219.68,355.60 L220.95,355.53 L222.22,355.45 L223.49,355.36 L224.76,355.28 L226.03,355.18 L227.30,355.08" fill="none" stroke="#333" stroke-width="0.8"/>
<path d="M49.50,354.22 L50.77,354.06 L52.04,353.88 L53.31,353.70 L54.58,353.50 L55.85,353.29 L57.12,353.06 L58.39,352.83 L59.66,352.57 L60.93,352.30 L62.20,352.02 L63.47,351.72 L64.74,351.40 L66.01,351.06 L67.28,350.69 L68.55,350.31 L69.82,349.91 L71.09,349.48 L72.36,349.02 L73.63,348.54 L74.90,348.03 L76.17,347.50 L77.44,346.93 L78.71,346.33 L79.98,345.71 L81.25,345.04 L82.52,344.35 L83.79,343.61 L85.06,342.85 L86.33,342.04 L87.60,341.19 L88.87,340.31 L90.14,339.38 L91.41,338.42 L92.68,337.41 L93.95,336.36 L95.22,335.26 L96.49,334.13 L97.76,332.95 L99.03,331.73 L100.30,330.47 L101.57,329.17 L102.84,327.82 L104.11,326.44 L105.38,325.02 L106.65,323.57 L107.92,322.08 L109.19,320.56 L110.46,319.01 L111.73,317.43 L113.00,315.83 L114.27,314.21 L115.54,312.57 L116.81,310.91 L118.08,309.25 L119.35,307.57 L120.62,305.89 L121.89,304.22 L123.16,302.54 L124.43,300.87 L125.70,299.21 L126.97,297.57 L128.24,295.94 L129.51,294.33 L130.78,292.75 L132.05,291.19 L133.32,289.66 L134.59,288.16 L135.86,286.70 L137.13,285.27 L138.40,283.88 L139.67,282.52 L140.94,281.21 L142.21,279.94 L143.48,278.71 L144.75,277.52 L146.02,276.37 L147.29,275.26 L148.56,274.20 L149.83,273.18 L151.10,272.20 L152.37,271.27 L153.64,270.37 L154.91,269.51 L156.18,268.70 L157.45,267.92 L158.72,267.17 L159.99,266.47 L161.26,265.79 L162.53,265.16 L163.80,264.55 L165.07,263.98 L166.34,263.43 L167.61,262.92 L168.88,262.43 L170.15,261.97 L171.42,261.53 L172.69,261.12 L173.96,260.73 L175.23,260.36 L176.50,260.02 L177.77,259.69 L179.04,259.38 L180.31,259.09 L181.58,258.82 L182.85,258.56 L184.12,258.32 L185.39,258.09 L186.66,257.88 L187.93,257.68 L189.20,257.49 L190.47,257.31 L191.74,257.14 L193.01,256.99 L194.28,256.84 L195.55,256.70 L196.82,256.57 L198.09,256.45 L199.36,256.33 L200.63,256.23 L201.90,256.12 L203.17,256.03 L204.44,255.94 L205.71,255.86 L206.98,255.78 L208.25,255.71 L209.52,255.64 L210.79,255.57 L212.06,255.51 L213.33,255.46 L214.60,255.40 L215.87,255.35 L217.14,255.31 L218.41,255.26 L219.68,255.22 L220.95,255.18 L222.22,255.15 L223.49,255.12 L224.76,255.08 L226.03,255.05 L227.30,255.03" fill="none" stroke="#ff0a0a" stroke-width="0.75"/>
<path d="M49.50,354.16 L50.77,353.99 L52.04,353.82 L53.31,353.63 L54.58,353.42 L55.85,353.21 L57.12,352.98 L58.39,352.74 L59.66,352.48 L60.93,352.21 L62.20,351.92 L63.47,351.61 L64.74,351.28 L66.01,350.93 L67.28,350.57 L68.55,350.18 L69.82,349.77 L71.09,349.33 L72.36,348.87 L73.63,348.38 L74.90,347.87 L76.17,347.33 L77.44,346.75 L78.71,346.15 L79.98,345.51 L81.25,344.85 L82.52,344.14 L83.79,343.41 L85.06,342.63 L86.33,341.82 L87.60,340.97 L88.87,340.09 L90.14,339.16 L91.41,338.19 L92.68,337.19 L93.95,336.14 L95.22,335.05 L96.49,333.92 L97.76,332.76 L99.03,331.55 L100.30,330.30 L101.57,329.02 L102.84,327.69 L104.11,326.34 L105.38,324.94 L106.65,323.52 L107.92,322.06 L109.19,320.58 L110.46,319.07 L111.73,317.54 L113.00,315.99 L114.27,314.42 L115.54,312.84 L116.81,311.25 L118.08,309.65 L119.35,308.05 L120.62,306.44 L121.89,304.85 L123.16,303.25 L124.43,301.67 L125.70,300.10 L126.97,298.55 L128.24,297.01 L129.51,295.50 L130.78,294.02 L132.05,292.56 L133.32,291.13 L134.59,289.73 L135.86,288.37 L137.13,287.05 L138.40,285.76 L139.67,284.50 L140.94,283.29 L142.21,282.12 L143.48,280.98 L144.75,279.89 L146.02,278.84 L147.29,277.83 L148.56,276.86 L149.83,275.93 L151.10,275.04 L152.37,274.18 L153.64,273.37 L154.91,272.59 L156.18,271.85 L157.45,271.14 L158.72,270.47 L159.99,269.83 L161.26,269.22 L162.53,268.65 L163.80,268.10 L165.07,267.58 L166.34,267.09 L167.61,266.63 L168.88,266.19 L170.15,265.78 L171.42,265.38 L172.69,265.02 L173.96,264.67 L175.23,264.34 L176.50,264.03 L177.77,263.73 L179.04,263.46 L180.31,263.20 L181.58,262.95 L182.85,262.72 L184.12,262.51 L185.39,262.30 L186.66,262.11 L187.93,261.93 L189.20,261.76 L190.47,261.61 L191.74,261.46 L193.01,261.32 L194.28,261.18 L195.55,261.06 L196.82,260.95 L198.09,260.84 L199.36,260.73 L200.63,260.64 L201.90,260.55 L203.17,260.46 L204.44,260.39 L205.71,260.31 L206.98,260.24 L208.25,260.18 L209.52,260.12 L210.79,260.06 L212.06,260.00 L213.33,259.95 L214.60,259.91 L215.87,259.86 L217.14,259.82 L218.41,259.78 L219.68,259.75 L220.95,259.71 L222.22,259.68 L223.49,259.65 L224.76,259.62 L226.03,259.60 L227.30,259.57" fill="none" stroke="#ff0a0a" stroke-width="0.75"/>
<path d="M49.50,354.25 L50.77,354.09 L52.04,353.92 L53.31,353.74 L54.58,353.54 L55.85,353.34 L57.12,353.12 L58.39,352.88 L59.66,352.63 L60.93,352.37 L62.20,352.09 L63.47,351.79 L64.74,351.47 L66.01,351.14 L67.28,350.78 L68.55,350.41 L69.82,350.01 L71.09,349.59 L72.36,349.14 L73.63,348.67 L74.90,348.17 L76.17,347.65 L77.44,347.09 L78.71,346.51 L79.98,345.89 L81.25,345.25 L82.52,344.57 L83.79,343.85 L85.06,343.10 L86.33,342.31 L87.60,341.49 L88.87,340.63 L90.14,339.73 L91.41,338.79 L92.68,337.81 L93.95,336.79 L95.22,335.73 L96.49,334.63 L97.76,333.49 L99.03,332.31 L100.30,331.09 L101.57,329.83 L102.84,328.54 L104.11,327.21 L105.38,325.84 L106.65,324.44 L107.92,323.02 L109.19,321.56 L110.46,320.08 L111.73,318.57 L113.00,317.04 L114.27,315.50 L115.54,313.94 L116.81,312.36 L118.08,310.78 L119.35,309.20 L120.62,307.61 L121.89,306.02 L123.16,304.44 L124.43,302.87 L125.70,301.31 L126.97,299.76 L128.24,298.24 L129.51,296.73 L130.78,295.25 L132.05,293.79 L133.32,292.37 L134.59,290.97 L135.86,289.61 L137.13,288.28 L138.40,286.98 L139.67,285.73 L140.94,284.51 L142.21,283.33 L143.48,282.19 L144.75,281.10 L146.02,280.04 L147.29,279.02 L148.56,278.04 L149.83,277.10 L151.10,276.20 L152.37,275.34 L153.64,274.52 L154.91,273.73 L156.18,272.98 L157.45,272.27 L158.72,271.59 L159.99,270.94 L161.26,270.33 L162.53,269.74 L163.80,269.19 L165.07,268.67 L166.34,268.17 L167.61,267.70 L168.88,267.25 L170.15,266.83 L171.42,266.44 L172.69,266.06 L173.96,265.71 L175.23,265.37 L176.50,265.06 L177.77,264.76 L179.04,264.48 L180.31,264.22 L181.58,263.97 L182.85,263.73 L184.12,263.51 L185.39,263.31 L186.66,263.11 L187.93,262.93 L189.20,262.76 L190.47,262.60 L191.74,262.45 L193.01,262.30 L194.28,262.17 L195.55,262.04 L196.82,261.93 L198.09,261.82 L199.36,261.71 L200.63,261.61 L201.90,261.52 L203.17,261.44 L204.44,261.36 L205.71,261.28 L206.98,261.21 L208.25,261.14 L209.52,261.08 L210.79,261.02 L212.06,260.97 L213.33,260.92 L214.60,260.87 L215.87,260.82 L217.14,260.78 L218.41,260.74 L219.68,260.71 L220.95,260.67 L222.22,260.64 L223.49,260.61 L224.76,260.58 L226.03,260.55 L227.30,260.53" fill="none" stroke="#ff0a0a" stroke-width="0.75"/>
<circle cx="200.54" cy="356.5" r="2.45" fill="#000"/>
<circle cx="187.16" cy="356.5" r="2.45" fill="#000"/>
<circle cx="173.78" cy="356.5" r="2.45" fill="#000"/>
<circle cx="160.4" cy="356.5" r="2.45" fill="#000"/>
<circle cx="147.02" cy="356.5" r="2.45" fill="#000"/>
<circle cx="133.63" cy="356.5" r="2.45" fill="#000"/>
<circle cx="120.25" cy="356.5" r="2.45" fill="#000"/>
<circle cx="106.87" cy="356.5" r="2.45" fill="#000"/>
<circle cx="93.49" cy="356.5" r="2.45" fill="#000"/>
<circle cx="80.11" cy="356.5" r="2.45" fill="#000"/>
<circle cx="66.73" cy="356.5" r="2.45" fill="#000"/>
<circle cx="49.5" cy="356.7" r="2.45" fill="#000"/>
<circle cx="213.92" cy="355.6" r="2.45" fill="#000"/>
<circle cx="213.92" cy="354.4" r="2.45" fill="#000"/>
<circle cx="227.3" cy="351.3" r="2.45" fill="#000"/>
<circle cx="227.3" cy="353.4" r="2.45" fill="#000"/>
<circle cx="227.3" cy="355.3" r="2.45" fill="#000"/>
<circle cx="49.5" cy="356.6" r="2.6" fill="#ff0a0a"/>
<circle cx="66.73" cy="352.2" r="2.6" fill="#ff0a0a"/>
<circle cx="66.73" cy="353.6" r="2.6" fill="#ff0a0a"/>
<circle cx="80.11" cy="347.5" r="2.6" fill="#ff0a0a"/>
<circle cx="80.11" cy="350.5" r="2.6" fill="#ff0a0a"/>
<circle cx="93.49" cy="339.5" r="2.6" fill="#ff0a0a"/>
<circle cx="93.49" cy="346" r="2.6" fill="#ff0a0a"/>
<circle cx="106.87" cy="312" r="2.6" fill="#ff0a0a"/>
<circle cx="106.87" cy="315" r="2.6" fill="#ff0a0a"/>
<circle cx="106.87" cy="318.8" r="2.6" fill="#ff0a0a"/>
<circle cx="120.25" cy="301.7" r="2.6" fill="#ff0a0a"/>
<circle cx="120.25" cy="307.9" r="2.6" fill="#ff0a0a"/>
<circle cx="133.63" cy="285.7" r="2.6" fill="#ff0a0a"/>
<circle cx="133.63" cy="290.2" r="2.6" fill="#ff0a0a"/>
<circle cx="133.63" cy="294" r="2.6" fill="#ff0a0a"/>
<circle cx="147.02" cy="280.9" r="2.6" fill="#ff0a0a"/>
<circle cx="147.02" cy="283.2" r="2.6" fill="#ff0a0a"/>
<circle cx="147.02" cy="285" r="2.6" fill="#ff0a0a"/>
<circle cx="160.4" cy="265.5" r="2.6" fill="#ff0a0a"/>
<circle cx="160.4" cy="272.3" r="2.6" fill="#ff0a0a"/>
<circle cx="173.78" cy="257.2" r="2.6" fill="#ff0a0a"/>
<circle cx="173.78" cy="261.1" r="2.6" fill="#ff0a0a"/>
<circle cx="173.78" cy="264.7" r="2.6" fill="#ff0a0a"/>
<circle cx="187.16" cy="258.2" r="2.6" fill="#ff0a0a"/>
<circle cx="187.16" cy="261.5" r="2.6" fill="#ff0a0a"/>
<circle cx="187.16" cy="263.6" r="2.6" fill="#ff0a0a"/>
<circle cx="200.54" cy="255" r="2.6" fill="#ff0a0a"/>
<circle cx="200.54" cy="258.6" r="2.6" fill="#ff0a0a"/>
<circle cx="200.54" cy="261.1" r="2.6" fill="#ff0a0a"/>
<circle cx="213.92" cy="250.5" r="2.6" fill="#ff0a0a"/>
<circle cx="213.92" cy="254.3" r="2.6" fill="#ff0a0a"/>
<circle cx="213.92" cy="256.3" r="2.6" fill="#ff0a0a"/>
<circle cx="227.3" cy="263.6" r="2.6" fill="#ff0a0a"/>
<circle cx="227.3" cy="266.2" r="2.6" fill="#ff0a0a"/>
<circle cx="227.3" cy="268.8" r="2.6" fill="#ff0a0a"/>
<line x1="60.9" y1="246.2" x2="73.5" y2="246.2" stroke="#444" stroke-width="1.0"/>
<circle cx="67.4" cy="246.2" r="2.3" fill="#000"/>
<text transform="translate(80.40,249.60) scale(0.965,1)" font-size="10.29" font-weight="bold" fill="#000" stroke="#000" stroke-width="0.26">DR5-B</text>
<line x1="60.9" y1="262" x2="73.5" y2="262" stroke="#d02a30" stroke-width="1.0"/>
<circle cx="67.4" cy="262" r="2.5" fill="#ff0a0a"/>
<text transform="translate(80.40,265.50) scale(0.979,1)" font-size="10.14" font-weight="bold" fill="#000" stroke="#000" stroke-width="0.26">DR5-B-iRGD</text>
<text transform="translate(126.88,323.20) scale(0.969,1)" font-size="10.58" font-weight="bold" fill="#ff0a0a" stroke="#ff0a0a" stroke-width="0.26">Kd</text>
<text transform="translate(144.62,323.20) scale(0.990,1)" font-size="9.70" font-weight="bold" fill="#000" stroke="#000" stroke-width="0.25">=</text>
<text transform="translate(157.11,323.30) scale(0.904,1)" font-size="10.57" font-weight="bold" font-style="italic" fill="#000" stroke="#000" stroke-width="0.28">1.886</text>
<text transform="translate(187.38,323.60) scale(1.078,1)" font-size="10.00" font-weight="bold" fill="#000" stroke="#000" stroke-width="0.23">&#177;</text>
<text transform="translate(196.79,323.20) scale(0.989,1)" font-size="10.29" font-weight="bold" font-style="italic" fill="#000" stroke="#000" stroke-width="0.25">0.1106</text>
<text transform="translate(288.29,204.50) scale(0.970,1)" font-size="19.28" font-weight="bold" fill="#000" stroke="#000" stroke-width="0.26">D</text>
<line x1="327.6" y1="235.7" x2="327.6" y2="355.3" stroke="#000" stroke-width="1.25"/>
<line x1="322.6" y1="354.7" x2="327.6" y2="354.7" stroke="#000" stroke-width="1.25"/>
<line x1="322.6" y1="315.23" x2="327.6" y2="315.23" stroke="#000" stroke-width="1.25"/>
<line x1="322.6" y1="275.77" x2="327.6" y2="275.77" stroke="#000" stroke-width="1.25"/>
<line x1="322.6" y1="236.3" x2="327.6" y2="236.3" stroke="#000" stroke-width="1.25"/>
<text transform="translate(305.34,358.75) scale(0.990,1)" font-size="11.64" font-weight="bold" fill="#000" stroke="#000" stroke-width="0.25">0.0</text>
<text transform="translate(305.34,319.28) scale(0.990,1)" font-size="11.64" font-weight="bold" fill="#000" stroke="#000" stroke-width="0.25">0.2</text>
<text transform="translate(305.35,279.82) scale(0.961,1)" font-size="11.64" font-weight="bold" fill="#000" stroke="#000" stroke-width="0.26">0.4</text>
<text transform="translate(305.34,240.35) scale(0.990,1)" font-size="11.64" font-weight="bold" fill="#000" stroke="#000" stroke-width="0.25">0.6</text>
<line x1="327" y1="354.7" x2="505.6" y2="354.7" stroke="#000" stroke-width="1.25"/>
<line x1="345.7" y1="354.7" x2="345.7" y2="359.4" stroke="#000" stroke-width="1.2"/>
<text transform="translate(342.31,371.70) scale(1.066,1)" font-size="11.57" font-weight="bold" fill="#000" stroke="#000" stroke-width="0.23">0</text>
<line x1="373.85" y1="354.7" x2="373.85" y2="359.4" stroke="#000" stroke-width="1.2"/>
<text transform="translate(370.59,371.70) scale(1.023,1)" font-size="11.57" font-weight="bold" fill="#000" stroke="#000" stroke-width="0.24">2</text>
<line x1="402" y1="354.7" x2="402" y2="359.4" stroke="#000" stroke-width="1.2"/>
<text transform="translate(398.75,371.70) scale(0.988,1)" font-size="11.74" font-weight="bold" fill="#000" stroke="#000" stroke-width="0.25">5</text>
<line x1="430.15" y1="354.7" x2="430.15" y2="359.4" stroke="#000" stroke-width="1.2"/>
<text transform="translate(423.80,371.70) scale(0.997,1)" font-size="11.57" font-weight="bold" fill="#000" stroke="#000" stroke-width="0.25">50</text>
<line x1="458.3" y1="354.7" x2="458.3" y2="359.4" stroke="#000" stroke-width="1.2"/>
<text transform="translate(448.75,371.70) scale(0.994,1)" font-size="11.57" font-weight="bold" fill="#000" stroke="#000" stroke-width="0.25">500</text>
<line x1="486.45" y1="354.7" x2="486.45" y2="359.4" stroke="#000" stroke-width="1.2"/>
<text transform="translate(474.01,371.70) scale(0.973,1)" font-size="11.57" font-weight="bold" fill="#000" stroke="#000" stroke-width="0.26">5000</text>
<text transform="translate(390.71,392.90) scale(0.975,1)" font-size="11.59" font-weight="bold" fill="#000" stroke="#000" stroke-width="0.26">iRGD, nM</text>
<g transform="translate(296.5,305.3) rotate(-90)"><text transform="translate(-0.32,0.00) scale(0.928,1)" font-size="11.59" font-weight="bold" fill="#000" stroke="#000" stroke-width="0.27">A</text></g>
<g transform="translate(299.8,297.7) rotate(-90)"><text transform="translate(-0.18,0.00) scale(0.971,1)" font-size="9.14" font-weight="bold" fill="#000" stroke="#000" stroke-width="0.26">450</text></g>
<circle cx="444.8" cy="236.7" r="2.15" fill="none" stroke="#000" stroke-width="1.65"/>
<text transform="translate(458.11,239.80) scale(1.001,1)" font-size="9.86" font-weight="bold" fill="#000" stroke="#000" stroke-width="0.25">DR5-B-iRGD (2 nM)</text>
<line x1="336.5" y1="252.8" x2="354.9" y2="252.8" stroke="#000" stroke-width="1.4"/>
<line x1="345.7" y1="251.8" x2="345.7" y2="253.8" stroke="#444" stroke-width="1.0"/>
<line x1="341.1" y1="251.8" x2="350.3" y2="251.8" stroke="#444" stroke-width="1.0"/>
<line x1="341.1" y1="253.8" x2="350.3" y2="253.8" stroke="#444" stroke-width="1.0"/>
<circle cx="340.1" cy="251.5" r="2.05" fill="none" stroke="#000" stroke-width="1.6"/>
<circle cx="346" cy="252.3" r="2.05" fill="none" stroke="#000" stroke-width="1.6"/>
<circle cx="351.8" cy="255.5" r="2.05" fill="none" stroke="#000" stroke-width="1.6"/>
<line x1="364.65" y1="257.5" x2="383.05" y2="257.5" stroke="#000" stroke-width="1.4"/>
<line x1="373.85" y1="254.2" x2="373.85" y2="261.2" stroke="#444" stroke-width="1.0"/>
<line x1="369.25" y1="254.2" x2="378.45" y2="254.2" stroke="#444" stroke-width="1.0"/>
<line x1="369.25" y1="261.2" x2="378.45" y2="261.2" stroke="#444" stroke-width="1.0"/>
<circle cx="369.3" cy="256" r="2.05" fill="none" stroke="#000" stroke-width="1.6"/>
<circle cx="374.2" cy="251.8" r="2.05" fill="none" stroke="#000" stroke-width="1.6"/>
<circle cx="378.6" cy="264.5" r="2.05" fill="none" stroke="#000" stroke-width="1.6"/>
<line x1="392.8" y1="259.6" x2="411.2" y2="259.6" stroke="#000" stroke-width="1.4"/>
<line x1="402" y1="257.2" x2="402" y2="262" stroke="#444" stroke-width="1.0"/>
<line x1="397.4" y1="257.2" x2="406.6" y2="257.2" stroke="#444" stroke-width="1.0"/>
<line x1="397.4" y1="262" x2="406.6" y2="262" stroke="#444" stroke-width="1.0"/>
<circle cx="396.3" cy="254.7" r="2.05" fill="none" stroke="#000" stroke-width="1.6"/>
<circle cx="402" cy="262.6" r="2.05" fill="none" stroke="#000" stroke-width="1.6"/>
<circle cx="408" cy="262.9" r="2.05" fill="none" stroke="#000" stroke-width="1.6"/>
<line x1="421.4" y1="290.9" x2="439.8" y2="290.9" stroke="#000" stroke-width="1.4"/>
<line x1="430.6" y1="284" x2="430.6" y2="297.6" stroke="#444" stroke-width="1.0"/>
<line x1="426" y1="284" x2="435.2" y2="284" stroke="#444" stroke-width="1.0"/>
<line x1="426" y1="297.6" x2="435.2" y2="297.6" stroke="#444" stroke-width="1.0"/>
<circle cx="425.6" cy="280.8" r="2.05" fill="none" stroke="#000" stroke-width="1.6"/>
<circle cx="435" cy="288.9" r="2.05" fill="none" stroke="#000" stroke-width="1.6"/>
<circle cx="430.2" cy="303.7" r="2.05" fill="none" stroke="#000" stroke-width="1.6"/>
<line x1="449.1" y1="315.2" x2="467.5" y2="315.2" stroke="#000" stroke-width="1.4"/>
<line x1="458.3" y1="312" x2="458.3" y2="318.7" stroke="#444" stroke-width="1.0"/>
<line x1="453.7" y1="312" x2="462.9" y2="312" stroke="#444" stroke-width="1.0"/>
<line x1="453.7" y1="318.7" x2="462.9" y2="318.7" stroke="#444" stroke-width="1.0"/>
<circle cx="454" cy="314.2" r="2.05" fill="none" stroke="#000" stroke-width="1.6"/>
<circle cx="458.8" cy="311.3" r="2.05" fill="none" stroke="#000" stroke-width="1.6"/>
<circle cx="463.2" cy="322.3" r="2.05" fill="none" stroke="#000" stroke-width="1.6"/>
<line x1="477.25" y1="334.2" x2="495.65" y2="334.2" stroke="#000" stroke-width="1.4"/>
<line x1="486.45" y1="332.9" x2="486.45" y2="335.4" stroke="#444" stroke-width="1.0"/>
<line x1="481.85" y1="332.9" x2="491.05" y2="332.9" stroke="#444" stroke-width="1.0"/>
<line x1="481.85" y1="335.4" x2="491.05" y2="335.4" stroke="#444" stroke-width="1.0"/>
<circle cx="481" cy="331" r="2.05" fill="none" stroke="#000" stroke-width="1.6"/>
<circle cx="486.5" cy="334.1" r="2.05" fill="none" stroke="#000" stroke-width="1.6"/>
<circle cx="492.3" cy="337.6" r="2.05" fill="none" stroke="#000" stroke-width="1.6"/>
<text transform="translate(427.30,280.12) scale(1.063,1)" font-size="15.68" font-weight="bold" fill="#000" stroke="#000" stroke-width="0.24">*</text>
<text transform="translate(450.10,304.12) scale(1.047,1)" font-size="15.68" font-weight="bold" fill="#000" stroke="#000" stroke-width="0.24">*</text>
<text transform="translate(460.10,304.12) scale(1.063,1)" font-size="15.68" font-weight="bold" fill="#000" stroke="#000" stroke-width="0.24">*</text>
<text transform="translate(478.10,322.60) scale(1.013,1)" font-size="15.95" font-weight="bold" fill="#000" stroke="#000" stroke-width="0.25">*</text>
<text transform="translate(488.20,322.60) scale(1.061,1)" font-size="15.95" font-weight="bold" fill="#000" stroke="#000" stroke-width="0.24">*</text>
</svg>
</body></html>
